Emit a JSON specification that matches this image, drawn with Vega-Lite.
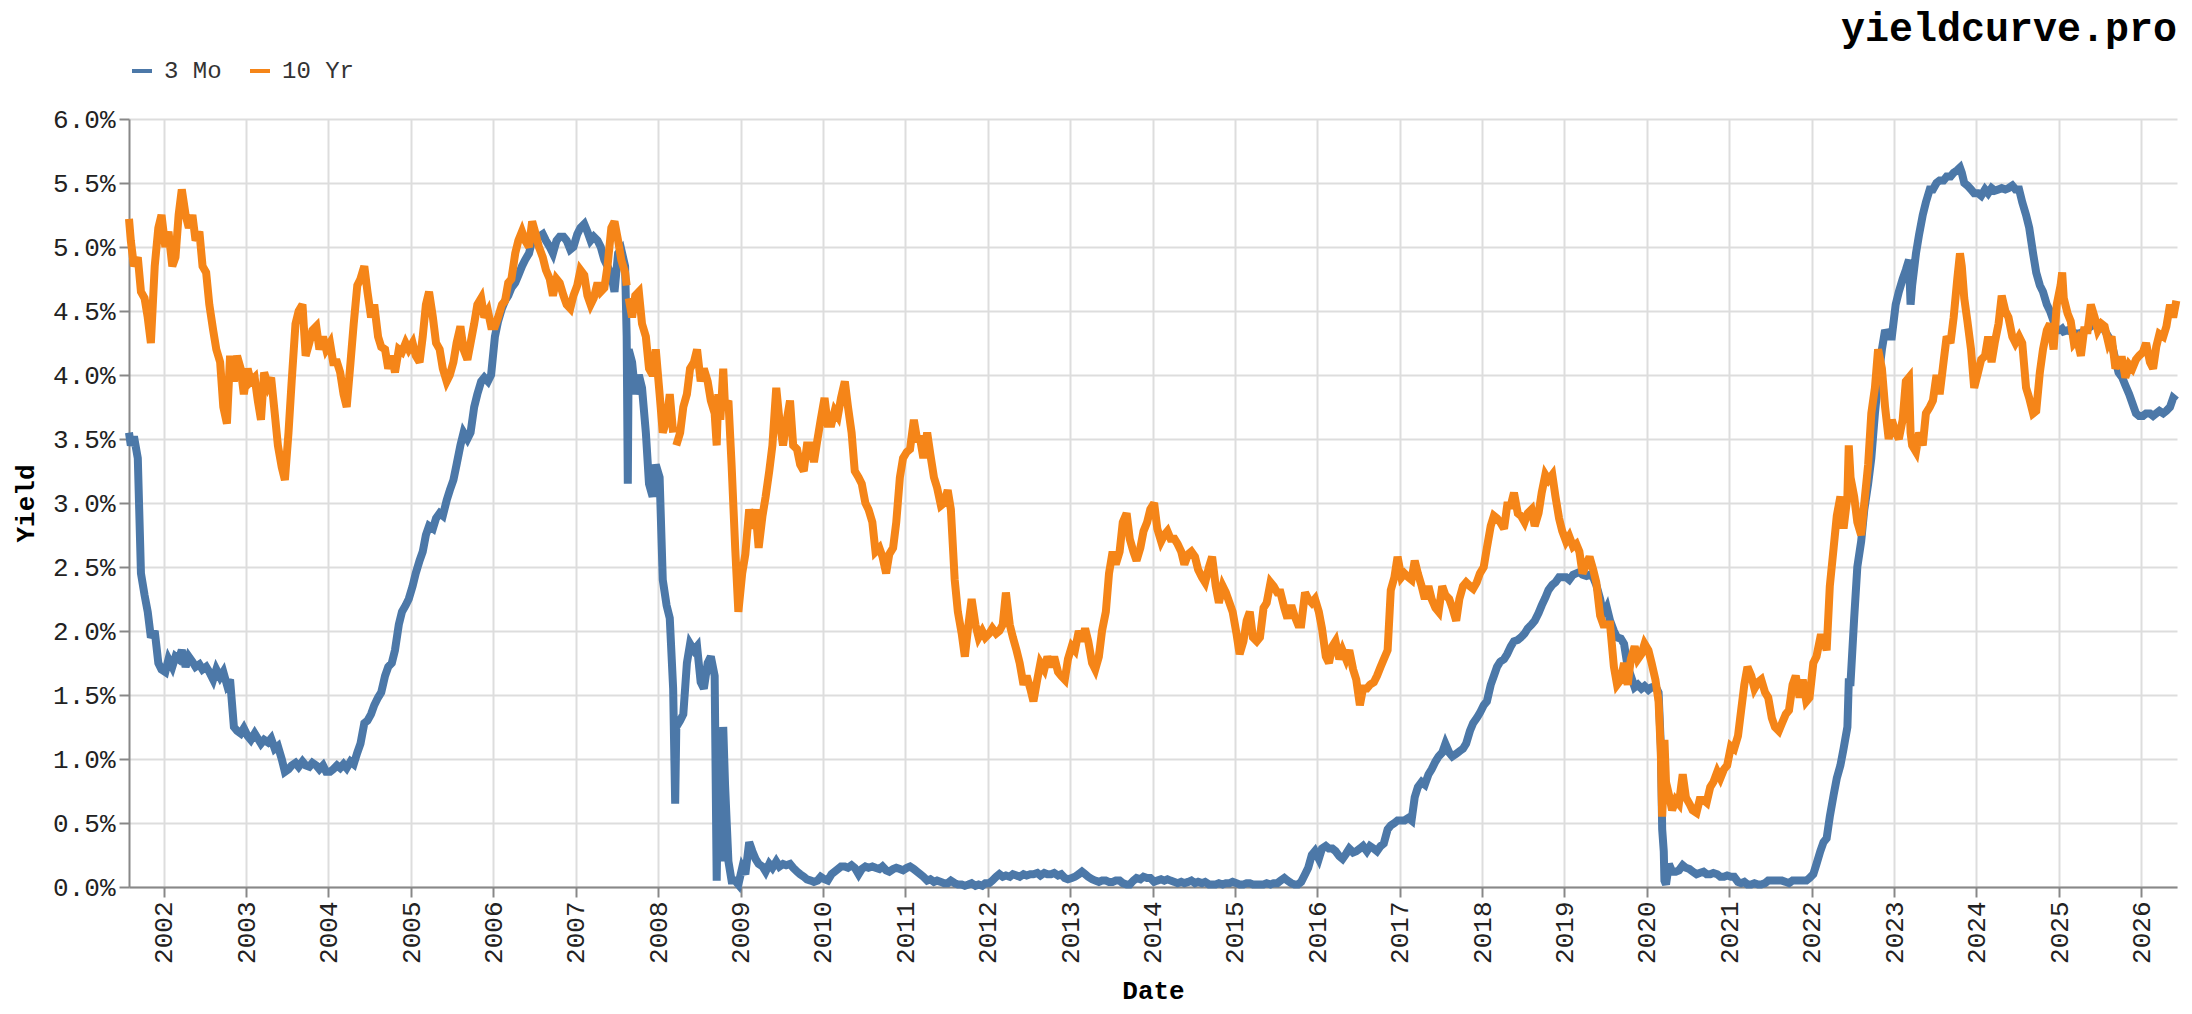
{
  "$schema": "https://vega.github.io/schema/vega-lite/v6.json",
  "width": 2048,
  "height": 768,
  "autosize": {"type": "none"},
  "padding": {"left": 129, "top": 119, "right": 15, "bottom": 127},
  "background": "white",
  "title": {
    "text": "yieldcurve.pro",
    "anchor": "end",
    "frame": "group",
    "font": "Liberation Mono",
    "fontSize": 40,
    "fontWeight": "bold",
    "color": "#000",
    "offset": 10
  },
  "config": {
    "view": {"stroke": null},
    "font": "Liberation Mono"
  },
  "data": {
    "values": [
      {"d":"2001-07-31","m3":3.55,"y10":5.22},
      {"d":"2001-08-08","m3":3.45,"y10":5.05},
      {"d":"2001-08-22","m3":3.52,"y10":4.85},
      {"d":"2001-09-08","m3":3.35,"y10":4.92},
      {"d":"2001-09-22","m3":2.45,"y10":4.65},
      {"d":"2001-10-08","m3":2.28,"y10":4.6},
      {"d":"2001-10-22","m3":2.15,"y10":4.45},
      {"d":"2001-11-05","m3":1.95,"y10":4.25},
      {"d":"2001-11-22","m3":2.0,"y10":4.85},
      {"d":"2001-12-08","m3":1.75,"y10":5.15},
      {"d":"2001-12-22","m3":1.7,"y10":5.25},
      {"d":"2002-01-08","m3":1.68,"y10":5.0},
      {"d":"2002-01-22","m3":1.78,"y10":5.12},
      {"d":"2002-02-08","m3":1.72,"y10":4.85},
      {"d":"2002-02-22","m3":1.8,"y10":4.92},
      {"d":"2002-03-08","m3":1.78,"y10":5.25},
      {"d":"2002-03-22","m3":1.85,"y10":5.45},
      {"d":"2002-04-08","m3":1.72,"y10":5.25},
      {"d":"2002-04-22","m3":1.8,"y10":5.15},
      {"d":"2002-05-08","m3":1.76,"y10":5.25},
      {"d":"2002-05-22","m3":1.72,"y10":5.05},
      {"d":"2002-06-08","m3":1.74,"y10":5.12},
      {"d":"2002-06-22","m3":1.7,"y10":4.85},
      {"d":"2002-07-08","m3":1.72,"y10":4.8},
      {"d":"2002-07-22","m3":1.68,"y10":4.55},
      {"d":"2002-08-08","m3":1.62,"y10":4.35},
      {"d":"2002-08-22","m3":1.7,"y10":4.2},
      {"d":"2002-09-08","m3":1.64,"y10":4.1},
      {"d":"2002-09-22","m3":1.68,"y10":3.75},
      {"d":"2002-10-08","m3":1.58,"y10":3.62},
      {"d":"2002-10-22","m3":1.62,"y10":4.15},
      {"d":"2002-11-08","m3":1.25,"y10":3.95},
      {"d":"2002-11-22","m3":1.22,"y10":4.15},
      {"d":"2002-12-08","m3":1.2,"y10":4.05},
      {"d":"2002-12-22","m3":1.24,"y10":3.85},
      {"d":"2003-01-08","m3":1.18,"y10":4.05},
      {"d":"2003-01-22","m3":1.15,"y10":3.95},
      {"d":"2003-02-08","m3":1.2,"y10":3.98},
      {"d":"2003-02-22","m3":1.16,"y10":3.8},
      {"d":"2003-03-08","m3":1.12,"y10":3.65},
      {"d":"2003-03-22","m3":1.15,"y10":4.02},
      {"d":"2003-04-08","m3":1.13,"y10":3.92},
      {"d":"2003-04-22","m3":1.16,"y10":3.98},
      {"d":"2003-05-08","m3":1.08,"y10":3.7},
      {"d":"2003-05-22","m3":1.1,"y10":3.45},
      {"d":"2003-06-08","m3":1.0,"y10":3.28},
      {"d":"2003-06-22","m3":0.9,"y10":3.18},
      {"d":"2003-07-08","m3":0.92,"y10":3.55},
      {"d":"2003-07-22","m3":0.95,"y10":3.95},
      {"d":"2003-08-08","m3":0.97,"y10":4.4},
      {"d":"2003-08-22","m3":0.94,"y10":4.5},
      {"d":"2003-09-08","m3":0.98,"y10":4.55},
      {"d":"2003-09-22","m3":0.95,"y10":4.15},
      {"d":"2003-10-08","m3":0.94,"y10":4.25},
      {"d":"2003-10-22","m3":0.97,"y10":4.35},
      {"d":"2003-11-08","m3":0.95,"y10":4.38},
      {"d":"2003-11-22","m3":0.92,"y10":4.2},
      {"d":"2003-12-08","m3":0.95,"y10":4.3},
      {"d":"2003-12-22","m3":0.9,"y10":4.2},
      {"d":"2004-01-08","m3":0.9,"y10":4.25},
      {"d":"2004-01-22","m3":0.92,"y10":4.1},
      {"d":"2004-02-08","m3":0.95,"y10":4.1},
      {"d":"2004-02-22","m3":0.93,"y10":4.02},
      {"d":"2004-03-08","m3":0.96,"y10":3.85},
      {"d":"2004-03-22","m3":0.93,"y10":3.75},
      {"d":"2004-04-08","m3":0.98,"y10":4.1},
      {"d":"2004-04-22","m3":0.96,"y10":4.4},
      {"d":"2004-05-08","m3":1.05,"y10":4.7},
      {"d":"2004-05-22","m3":1.12,"y10":4.75},
      {"d":"2004-06-08","m3":1.28,"y10":4.85},
      {"d":"2004-06-22","m3":1.3,"y10":4.65},
      {"d":"2004-07-08","m3":1.35,"y10":4.45},
      {"d":"2004-07-22","m3":1.42,"y10":4.55},
      {"d":"2004-08-08","m3":1.48,"y10":4.3},
      {"d":"2004-08-22","m3":1.52,"y10":4.22},
      {"d":"2004-09-08","m3":1.65,"y10":4.2},
      {"d":"2004-09-22","m3":1.72,"y10":4.05},
      {"d":"2004-10-08","m3":1.75,"y10":4.15},
      {"d":"2004-10-22","m3":1.85,"y10":4.02},
      {"d":"2004-11-08","m3":2.05,"y10":4.2},
      {"d":"2004-11-22","m3":2.15,"y10":4.18},
      {"d":"2004-12-08","m3":2.2,"y10":4.25},
      {"d":"2004-12-22","m3":2.25,"y10":4.2},
      {"d":"2005-01-08","m3":2.35,"y10":4.25},
      {"d":"2005-01-22","m3":2.45,"y10":4.15},
      {"d":"2005-02-08","m3":2.55,"y10":4.1},
      {"d":"2005-02-22","m3":2.62,"y10":4.3},
      {"d":"2005-03-08","m3":2.75,"y10":4.55},
      {"d":"2005-03-22","m3":2.82,"y10":4.65},
      {"d":"2005-04-08","m3":2.8,"y10":4.45},
      {"d":"2005-04-22","m3":2.88,"y10":4.25},
      {"d":"2005-05-08","m3":2.92,"y10":4.2},
      {"d":"2005-05-22","m3":2.9,"y10":4.05},
      {"d":"2005-06-08","m3":3.02,"y10":3.95},
      {"d":"2005-06-22","m3":3.1,"y10":4.0},
      {"d":"2005-07-08","m3":3.18,"y10":4.1},
      {"d":"2005-07-22","m3":3.3,"y10":4.25},
      {"d":"2005-08-08","m3":3.45,"y10":4.38},
      {"d":"2005-08-22","m3":3.55,"y10":4.2},
      {"d":"2005-09-08","m3":3.5,"y10":4.12},
      {"d":"2005-09-22","m3":3.55,"y10":4.25},
      {"d":"2005-10-08","m3":3.75,"y10":4.4},
      {"d":"2005-10-22","m3":3.85,"y10":4.55},
      {"d":"2005-11-08","m3":3.95,"y10":4.6},
      {"d":"2005-11-22","m3":3.98,"y10":4.45},
      {"d":"2005-12-08","m3":3.95,"y10":4.5},
      {"d":"2005-12-22","m3":4.0,"y10":4.38},
      {"d":"2006-01-08","m3":4.3,"y10":4.38},
      {"d":"2006-01-22","m3":4.42,"y10":4.45},
      {"d":"2006-02-08","m3":4.52,"y10":4.55},
      {"d":"2006-02-22","m3":4.58,"y10":4.58},
      {"d":"2006-03-08","m3":4.62,"y10":4.72},
      {"d":"2006-03-22","m3":4.68,"y10":4.75},
      {"d":"2006-04-08","m3":4.72,"y10":4.95},
      {"d":"2006-04-22","m3":4.78,"y10":5.05},
      {"d":"2006-05-08","m3":4.85,"y10":5.12},
      {"d":"2006-05-22","m3":4.9,"y10":5.05},
      {"d":"2006-06-08","m3":4.95,"y10":5.0},
      {"d":"2006-06-22","m3":5.05,"y10":5.2},
      {"d":"2006-07-08","m3":5.1,"y10":5.1},
      {"d":"2006-07-22","m3":5.08,"y10":5.0},
      {"d":"2006-08-08","m3":5.1,"y10":4.92},
      {"d":"2006-08-22","m3":5.05,"y10":4.82},
      {"d":"2006-09-08","m3":5.0,"y10":4.75},
      {"d":"2006-09-22","m3":4.95,"y10":4.62},
      {"d":"2006-10-08","m3":5.05,"y10":4.75},
      {"d":"2006-10-22","m3":5.08,"y10":4.72},
      {"d":"2006-11-08","m3":5.08,"y10":4.62},
      {"d":"2006-11-22","m3":5.05,"y10":4.55},
      {"d":"2006-12-08","m3":4.98,"y10":4.52},
      {"d":"2006-12-22","m3":5.0,"y10":4.62},
      {"d":"2007-01-08","m3":5.1,"y10":4.7},
      {"d":"2007-01-22","m3":5.15,"y10":4.82},
      {"d":"2007-02-08","m3":5.18,"y10":4.78},
      {"d":"2007-02-22","m3":5.12,"y10":4.62},
      {"d":"2007-03-08","m3":5.05,"y10":4.55},
      {"d":"2007-03-22","m3":5.08,"y10":4.6},
      {"d":"2007-04-08","m3":5.05,"y10":4.72},
      {"d":"2007-04-22","m3":5.0,"y10":4.65},
      {"d":"2007-05-08","m3":4.9,"y10":4.68},
      {"d":"2007-05-22","m3":4.85,"y10":4.85},
      {"d":"2007-06-08","m3":4.78,"y10":5.15},
      {"d":"2007-06-22","m3":4.65,"y10":5.2},
      {"d":"2007-07-08","m3":4.95,"y10":5.05},
      {"d":"2007-07-22","m3":4.98,"y10":4.9},
      {"d":"2007-08-08","m3":4.85,"y10":4.8},
      {"d":"2007-08-15","m3":4.3,"y10":4.7},
      {"d":"2007-08-20","m3":3.15},
      {"d":"2007-08-24","m3":4.2,"y10":4.6},
      {"d":"2007-09-08","m3":4.1,"y10":4.45},
      {"d":"2007-09-22","m3":3.85,"y10":4.62},
      {"d":"2007-10-08","m3":4.0,"y10":4.65},
      {"d":"2007-10-22","m3":3.9,"y10":4.4},
      {"d":"2007-11-08","m3":3.55,"y10":4.3},
      {"d":"2007-11-22","m3":3.15,"y10":4.05},
      {"d":"2007-12-08","m3":3.05,"y10":4.0},
      {"d":"2007-12-22","m3":3.3,"y10":4.2},
      {"d":"2008-01-08","m3":3.2,"y10":3.85},
      {"d":"2008-01-22","m3":2.4,"y10":3.55},
      {"d":"2008-02-08","m3":2.2,"y10":3.65},
      {"d":"2008-02-22","m3":2.1,"y10":3.85},
      {"d":"2008-03-08","m3":1.55,"y10":3.55},
      {"d":"2008-03-17","m3":0.65},
      {"d":"2008-03-22","m3":1.25,"y10":3.45},
      {"d":"2008-04-08","m3":1.3,"y10":3.55},
      {"d":"2008-04-22","m3":1.35,"y10":3.75},
      {"d":"2008-05-08","m3":1.75,"y10":3.85},
      {"d":"2008-05-22","m3":1.9,"y10":4.05},
      {"d":"2008-06-08","m3":1.85,"y10":4.1},
      {"d":"2008-06-22","m3":1.88,"y10":4.2},
      {"d":"2008-07-08","m3":1.6,"y10":3.95},
      {"d":"2008-07-22","m3":1.55,"y10":4.05},
      {"d":"2008-08-08","m3":1.75,"y10":3.95},
      {"d":"2008-08-22","m3":1.8,"y10":3.8},
      {"d":"2008-09-08","m3":1.65,"y10":3.7},
      {"d":"2008-09-17","m3":0.05,"y10":3.45},
      {"d":"2008-09-24","m3":0.9,"y10":3.85},
      {"d":"2008-10-03","m3":0.5,"y10":3.65},
      {"d":"2008-10-10","m3":0.2,"y10":3.85},
      {"d":"2008-10-16","m3":1.25,"y10":4.05},
      {"d":"2008-10-24","m3":0.8,"y10":3.75},
      {"d":"2008-11-08","m3":0.2,"y10":3.8},
      {"d":"2008-11-22","m3":0.05,"y10":3.3},
      {"d":"2008-12-08","m3":0.05,"y10":2.65},
      {"d":"2008-12-22","m3":0.02,"y10":2.15},
      {"d":"2009-01-08","m3":0.15,"y10":2.45},
      {"d":"2009-01-22","m3":0.1,"y10":2.6},
      {"d":"2009-02-08","m3":0.35,"y10":2.95},
      {"d":"2009-02-22","m3":0.28,"y10":2.8},
      {"d":"2009-03-08","m3":0.22,"y10":2.95},
      {"d":"2009-03-22","m3":0.18,"y10":2.65},
      {"d":"2009-04-08","m3":0.16,"y10":2.9},
      {"d":"2009-04-22","m3":0.12,"y10":3.05},
      {"d":"2009-05-08","m3":0.18,"y10":3.25},
      {"d":"2009-05-22","m3":0.15,"y10":3.45},
      {"d":"2009-06-08","m3":0.2,"y10":3.9},
      {"d":"2009-06-22","m3":0.16,"y10":3.65},
      {"d":"2009-07-08","m3":0.18,"y10":3.45},
      {"d":"2009-07-22","m3":0.17,"y10":3.62},
      {"d":"2009-08-08","m3":0.18,"y10":3.8},
      {"d":"2009-08-22","m3":0.15,"y10":3.45},
      {"d":"2009-09-08","m3":0.12,"y10":3.42},
      {"d":"2009-09-22","m3":0.1,"y10":3.3},
      {"d":"2009-10-08","m3":0.08,"y10":3.25},
      {"d":"2009-10-22","m3":0.06,"y10":3.45},
      {"d":"2009-11-08","m3":0.05,"y10":3.45},
      {"d":"2009-11-22","m3":0.04,"y10":3.32},
      {"d":"2009-12-08","m3":0.05,"y10":3.5},
      {"d":"2009-12-22","m3":0.08,"y10":3.65},
      {"d":"2010-01-08","m3":0.06,"y10":3.82},
      {"d":"2010-01-22","m3":0.05,"y10":3.62},
      {"d":"2010-02-08","m3":0.1,"y10":3.62},
      {"d":"2010-02-22","m3":0.12,"y10":3.72},
      {"d":"2010-03-08","m3":0.14,"y10":3.68},
      {"d":"2010-03-22","m3":0.16,"y10":3.82},
      {"d":"2010-04-08","m3":0.16,"y10":3.95},
      {"d":"2010-04-22","m3":0.15,"y10":3.75},
      {"d":"2010-05-08","m3":0.17,"y10":3.55},
      {"d":"2010-05-22","m3":0.15,"y10":3.25},
      {"d":"2010-06-08","m3":0.1,"y10":3.2},
      {"d":"2010-06-22","m3":0.14,"y10":3.15},
      {"d":"2010-07-08","m3":0.16,"y10":3.0},
      {"d":"2010-07-22","m3":0.15,"y10":2.95},
      {"d":"2010-08-08","m3":0.16,"y10":2.85},
      {"d":"2010-08-22","m3":0.15,"y10":2.62},
      {"d":"2010-09-08","m3":0.14,"y10":2.65},
      {"d":"2010-09-22","m3":0.16,"y10":2.58},
      {"d":"2010-10-08","m3":0.13,"y10":2.45},
      {"d":"2010-10-22","m3":0.12,"y10":2.6},
      {"d":"2010-11-08","m3":0.14,"y10":2.65},
      {"d":"2010-11-22","m3":0.15,"y10":2.85},
      {"d":"2010-12-08","m3":0.14,"y10":3.2},
      {"d":"2010-12-22","m3":0.13,"y10":3.35},
      {"d":"2011-01-08","m3":0.15,"y10":3.4},
      {"d":"2011-01-22","m3":0.16,"y10":3.42},
      {"d":"2011-02-08","m3":0.14,"y10":3.65},
      {"d":"2011-02-22","m3":0.12,"y10":3.5},
      {"d":"2011-03-08","m3":0.1,"y10":3.5},
      {"d":"2011-03-22","m3":0.08,"y10":3.35},
      {"d":"2011-04-08","m3":0.05,"y10":3.55},
      {"d":"2011-04-22","m3":0.06,"y10":3.38},
      {"d":"2011-05-08","m3":0.04,"y10":3.2},
      {"d":"2011-05-22","m3":0.05,"y10":3.12},
      {"d":"2011-06-08","m3":0.04,"y10":2.98},
      {"d":"2011-06-22","m3":0.03,"y10":3.0},
      {"d":"2011-07-08","m3":0.03,"y10":3.1},
      {"d":"2011-07-22","m3":0.05,"y10":2.95},
      {"d":"2011-08-08","m3":0.03,"y10":2.4},
      {"d":"2011-08-22","m3":0.02,"y10":2.15},
      {"d":"2011-09-08","m3":0.02,"y10":1.98},
      {"d":"2011-09-22","m3":0.01,"y10":1.8},
      {"d":"2011-10-08","m3":0.02,"y10":2.05},
      {"d":"2011-10-22","m3":0.03,"y10":2.25},
      {"d":"2011-11-08","m3":0.01,"y10":2.05},
      {"d":"2011-11-22","m3":0.02,"y10":1.95},
      {"d":"2011-12-08","m3":0.01,"y10":2.0},
      {"d":"2011-12-22","m3":0.03,"y10":1.95},
      {"d":"2012-01-08","m3":0.03,"y10":1.98},
      {"d":"2012-01-22","m3":0.05,"y10":2.02},
      {"d":"2012-02-08","m3":0.08,"y10":1.98},
      {"d":"2012-02-22","m3":0.1,"y10":2.0},
      {"d":"2012-03-08","m3":0.08,"y10":2.05},
      {"d":"2012-03-22","m3":0.09,"y10":2.3},
      {"d":"2012-04-08","m3":0.08,"y10":2.05},
      {"d":"2012-04-22","m3":0.1,"y10":1.95},
      {"d":"2012-05-08","m3":0.09,"y10":1.85},
      {"d":"2012-05-22","m3":0.08,"y10":1.75},
      {"d":"2012-06-08","m3":0.1,"y10":1.58},
      {"d":"2012-06-22","m3":0.09,"y10":1.65},
      {"d":"2012-07-08","m3":0.1,"y10":1.55},
      {"d":"2012-07-22","m3":0.1,"y10":1.45},
      {"d":"2012-08-08","m3":0.11,"y10":1.62},
      {"d":"2012-08-22","m3":0.09,"y10":1.75},
      {"d":"2012-09-08","m3":0.11,"y10":1.7},
      {"d":"2012-09-22","m3":0.1,"y10":1.8},
      {"d":"2012-10-08","m3":0.1,"y10":1.72},
      {"d":"2012-10-22","m3":0.11,"y10":1.8},
      {"d":"2012-11-08","m3":0.09,"y10":1.68},
      {"d":"2012-11-22","m3":0.1,"y10":1.65},
      {"d":"2012-12-08","m3":0.07,"y10":1.62},
      {"d":"2012-12-22","m3":0.06,"y10":1.78},
      {"d":"2013-01-08","m3":0.07,"y10":1.88},
      {"d":"2013-01-22","m3":0.08,"y10":1.85},
      {"d":"2013-02-08","m3":0.1,"y10":2.0},
      {"d":"2013-02-22","m3":0.12,"y10":1.92},
      {"d":"2013-03-08","m3":0.1,"y10":2.02},
      {"d":"2013-03-22","m3":0.08,"y10":1.92},
      {"d":"2013-04-08","m3":0.06,"y10":1.75},
      {"d":"2013-04-22","m3":0.05,"y10":1.7},
      {"d":"2013-05-08","m3":0.04,"y10":1.8},
      {"d":"2013-05-22","m3":0.05,"y10":2.0},
      {"d":"2013-06-08","m3":0.05,"y10":2.15},
      {"d":"2013-06-22","m3":0.04,"y10":2.45},
      {"d":"2013-07-08","m3":0.04,"y10":2.62},
      {"d":"2013-07-22","m3":0.05,"y10":2.52},
      {"d":"2013-08-08","m3":0.05,"y10":2.62},
      {"d":"2013-08-22","m3":0.03,"y10":2.85},
      {"d":"2013-09-08","m3":0.02,"y10":2.92},
      {"d":"2013-09-22","m3":0.02,"y10":2.72},
      {"d":"2013-10-08","m3":0.05,"y10":2.62},
      {"d":"2013-10-22","m3":0.07,"y10":2.55},
      {"d":"2013-11-08","m3":0.06,"y10":2.65},
      {"d":"2013-11-22","m3":0.08,"y10":2.78},
      {"d":"2013-12-08","m3":0.07,"y10":2.85},
      {"d":"2013-12-22","m3":0.07,"y10":2.95},
      {"d":"2014-01-08","m3":0.04,"y10":3.0},
      {"d":"2014-01-22","m3":0.05,"y10":2.8},
      {"d":"2014-02-08","m3":0.06,"y10":2.7},
      {"d":"2014-02-22","m3":0.05,"y10":2.75},
      {"d":"2014-03-08","m3":0.06,"y10":2.78},
      {"d":"2014-03-22","m3":0.05,"y10":2.72},
      {"d":"2014-04-08","m3":0.04,"y10":2.72},
      {"d":"2014-04-22","m3":0.03,"y10":2.68},
      {"d":"2014-05-08","m3":0.04,"y10":2.62},
      {"d":"2014-05-22","m3":0.03,"y10":2.52},
      {"d":"2014-06-08","m3":0.04,"y10":2.6},
      {"d":"2014-06-22","m3":0.05,"y10":2.62},
      {"d":"2014-07-08","m3":0.03,"y10":2.58},
      {"d":"2014-07-22","m3":0.04,"y10":2.48},
      {"d":"2014-08-08","m3":0.03,"y10":2.42},
      {"d":"2014-08-22","m3":0.04,"y10":2.38},
      {"d":"2014-09-08","m3":0.02,"y10":2.5},
      {"d":"2014-09-22","m3":0.02,"y10":2.58},
      {"d":"2014-10-08","m3":0.02,"y10":2.35},
      {"d":"2014-10-22","m3":0.03,"y10":2.22},
      {"d":"2014-11-08","m3":0.02,"y10":2.35},
      {"d":"2014-11-22","m3":0.03,"y10":2.3},
      {"d":"2014-12-08","m3":0.03,"y10":2.22},
      {"d":"2014-12-22","m3":0.04,"y10":2.15},
      {"d":"2015-01-08","m3":0.03,"y10":1.98},
      {"d":"2015-01-22","m3":0.02,"y10":1.82},
      {"d":"2015-02-08","m3":0.02,"y10":1.92},
      {"d":"2015-02-22","m3":0.03,"y10":2.08},
      {"d":"2015-03-08","m3":0.03,"y10":2.15},
      {"d":"2015-03-22","m3":0.02,"y10":1.95},
      {"d":"2015-04-08","m3":0.02,"y10":1.92},
      {"d":"2015-04-22","m3":0.02,"y10":1.95},
      {"d":"2015-05-08","m3":0.02,"y10":2.18},
      {"d":"2015-05-22","m3":0.03,"y10":2.22},
      {"d":"2015-06-08","m3":0.02,"y10":2.38},
      {"d":"2015-06-22","m3":0.03,"y10":2.35},
      {"d":"2015-07-08","m3":0.03,"y10":2.3},
      {"d":"2015-07-22","m3":0.05,"y10":2.3},
      {"d":"2015-08-08","m3":0.07,"y10":2.18},
      {"d":"2015-08-22","m3":0.05,"y10":2.1},
      {"d":"2015-09-08","m3":0.03,"y10":2.2},
      {"d":"2015-09-22","m3":0.02,"y10":2.12},
      {"d":"2015-10-08","m3":0.02,"y10":2.05},
      {"d":"2015-10-22","m3":0.04,"y10":2.05},
      {"d":"2015-11-08","m3":0.1,"y10":2.3},
      {"d":"2015-11-22","m3":0.15,"y10":2.25},
      {"d":"2015-12-08","m3":0.25,"y10":2.22},
      {"d":"2015-12-22","m3":0.28,"y10":2.25},
      {"d":"2016-01-08","m3":0.22,"y10":2.15},
      {"d":"2016-01-22","m3":0.3,"y10":2.02},
      {"d":"2016-02-08","m3":0.32,"y10":1.8},
      {"d":"2016-02-22","m3":0.3,"y10":1.75},
      {"d":"2016-03-08","m3":0.3,"y10":1.88},
      {"d":"2016-03-22","m3":0.28,"y10":1.92},
      {"d":"2016-04-08","m3":0.24,"y10":1.78},
      {"d":"2016-04-22","m3":0.22,"y10":1.85},
      {"d":"2016-05-08","m3":0.26,"y10":1.78},
      {"d":"2016-05-22","m3":0.3,"y10":1.85},
      {"d":"2016-06-08","m3":0.27,"y10":1.7},
      {"d":"2016-06-22","m3":0.28,"y10":1.62},
      {"d":"2016-07-08","m3":0.3,"y10":1.42},
      {"d":"2016-07-22","m3":0.32,"y10":1.55},
      {"d":"2016-08-08","m3":0.28,"y10":1.55},
      {"d":"2016-08-22","m3":0.32,"y10":1.58},
      {"d":"2016-09-08","m3":0.3,"y10":1.6},
      {"d":"2016-09-22","m3":0.28,"y10":1.65},
      {"d":"2016-10-08","m3":0.32,"y10":1.72},
      {"d":"2016-10-22","m3":0.34,"y10":1.78},
      {"d":"2016-11-08","m3":0.45,"y10":1.85},
      {"d":"2016-11-22","m3":0.48,"y10":2.32},
      {"d":"2016-12-08","m3":0.5,"y10":2.42},
      {"d":"2016-12-22","m3":0.52,"y10":2.58},
      {"d":"2017-01-08","m3":0.52,"y10":2.42},
      {"d":"2017-01-22","m3":0.52,"y10":2.45},
      {"d":"2017-02-08","m3":0.54,"y10":2.42},
      {"d":"2017-02-22","m3":0.52,"y10":2.4},
      {"d":"2017-03-08","m3":0.7,"y10":2.55},
      {"d":"2017-03-22","m3":0.78,"y10":2.45},
      {"d":"2017-04-08","m3":0.82,"y10":2.35},
      {"d":"2017-04-22","m3":0.8,"y10":2.25},
      {"d":"2017-05-08","m3":0.88,"y10":2.35},
      {"d":"2017-05-22","m3":0.92,"y10":2.25},
      {"d":"2017-06-08","m3":0.98,"y10":2.18},
      {"d":"2017-06-22","m3":1.02,"y10":2.15},
      {"d":"2017-07-08","m3":1.05,"y10":2.35},
      {"d":"2017-07-22","m3":1.12,"y10":2.28},
      {"d":"2017-08-08","m3":1.05,"y10":2.25},
      {"d":"2017-08-22","m3":1.02,"y10":2.18},
      {"d":"2017-09-08","m3":1.04,"y10":2.08},
      {"d":"2017-09-22","m3":1.06,"y10":2.25},
      {"d":"2017-10-08","m3":1.08,"y10":2.35},
      {"d":"2017-10-22","m3":1.12,"y10":2.38},
      {"d":"2017-11-08","m3":1.22,"y10":2.35},
      {"d":"2017-11-22","m3":1.28,"y10":2.33},
      {"d":"2017-12-08","m3":1.32,"y10":2.38},
      {"d":"2017-12-22","m3":1.36,"y10":2.45},
      {"d":"2018-01-08","m3":1.42,"y10":2.5},
      {"d":"2018-01-22","m3":1.45,"y10":2.65},
      {"d":"2018-02-08","m3":1.58,"y10":2.82},
      {"d":"2018-02-22","m3":1.65,"y10":2.9},
      {"d":"2018-03-08","m3":1.72,"y10":2.88},
      {"d":"2018-03-22","m3":1.76,"y10":2.85},
      {"d":"2018-04-08","m3":1.78,"y10":2.8},
      {"d":"2018-04-22","m3":1.82,"y10":2.98},
      {"d":"2018-05-08","m3":1.88,"y10":2.98},
      {"d":"2018-05-22","m3":1.92,"y10":3.08},
      {"d":"2018-06-08","m3":1.93,"y10":2.92},
      {"d":"2018-06-22","m3":1.95,"y10":2.9},
      {"d":"2018-07-08","m3":1.98,"y10":2.85},
      {"d":"2018-07-22","m3":2.02,"y10":2.92},
      {"d":"2018-08-08","m3":2.05,"y10":2.95},
      {"d":"2018-08-22","m3":2.08,"y10":2.82},
      {"d":"2018-09-08","m3":2.14,"y10":2.92},
      {"d":"2018-09-22","m3":2.2,"y10":3.08},
      {"d":"2018-10-08","m3":2.26,"y10":3.22},
      {"d":"2018-10-22","m3":2.32,"y10":3.18},
      {"d":"2018-11-08","m3":2.36,"y10":3.22},
      {"d":"2018-11-22","m3":2.38,"y10":3.05},
      {"d":"2018-12-08","m3":2.42,"y10":2.88},
      {"d":"2018-12-22","m3":2.42,"y10":2.78},
      {"d":"2019-01-08","m3":2.42,"y10":2.7},
      {"d":"2019-01-22","m3":2.4,"y10":2.74},
      {"d":"2019-02-08","m3":2.44,"y10":2.66},
      {"d":"2019-02-22","m3":2.45,"y10":2.68},
      {"d":"2019-03-08","m3":2.46,"y10":2.62},
      {"d":"2019-03-22","m3":2.44,"y10":2.45},
      {"d":"2019-04-08","m3":2.43,"y10":2.52},
      {"d":"2019-04-22","m3":2.44,"y10":2.58},
      {"d":"2019-05-08","m3":2.42,"y10":2.48},
      {"d":"2019-05-22","m3":2.36,"y10":2.38},
      {"d":"2019-06-08","m3":2.25,"y10":2.12},
      {"d":"2019-06-22","m3":2.12,"y10":2.05},
      {"d":"2019-07-08","m3":2.18,"y10":2.05},
      {"d":"2019-07-22","m3":2.08,"y10":2.05},
      {"d":"2019-08-08","m3":2.0,"y10":1.72},
      {"d":"2019-08-22","m3":1.95,"y10":1.58},
      {"d":"2019-09-08","m3":1.94,"y10":1.62},
      {"d":"2019-09-22","m3":1.9,"y10":1.75},
      {"d":"2019-10-08","m3":1.72,"y10":1.58},
      {"d":"2019-10-22","m3":1.65,"y10":1.78},
      {"d":"2019-11-08","m3":1.56,"y10":1.88},
      {"d":"2019-11-22","m3":1.58,"y10":1.78},
      {"d":"2019-12-08","m3":1.55,"y10":1.82},
      {"d":"2019-12-22","m3":1.57,"y10":1.9},
      {"d":"2020-01-08","m3":1.54,"y10":1.85},
      {"d":"2020-01-22","m3":1.56,"y10":1.75},
      {"d":"2020-02-08","m3":1.57,"y10":1.62},
      {"d":"2020-02-22","m3":1.52,"y10":1.45},
      {"d":"2020-03-03","m3":1.1,"y10":1.05},
      {"d":"2020-03-09","m3":0.45,"y10":0.55},
      {"d":"2020-03-16","m3":0.28,"y10":0.85},
      {"d":"2020-03-19","m3":0.05,"y10":1.15},
      {"d":"2020-03-26","m3":0.02,"y10":0.82},
      {"d":"2020-04-08","m3":0.18,"y10":0.72},
      {"d":"2020-04-22","m3":0.12,"y10":0.6},
      {"d":"2020-05-08","m3":0.12,"y10":0.68},
      {"d":"2020-05-22","m3":0.13,"y10":0.65},
      {"d":"2020-06-08","m3":0.17,"y10":0.88},
      {"d":"2020-06-22","m3":0.15,"y10":0.7},
      {"d":"2020-07-08","m3":0.14,"y10":0.65},
      {"d":"2020-07-22","m3":0.12,"y10":0.6},
      {"d":"2020-08-08","m3":0.1,"y10":0.58},
      {"d":"2020-08-22","m3":0.11,"y10":0.68},
      {"d":"2020-09-08","m3":0.12,"y10":0.68},
      {"d":"2020-09-22","m3":0.1,"y10":0.66},
      {"d":"2020-10-08","m3":0.1,"y10":0.78},
      {"d":"2020-10-22","m3":0.11,"y10":0.82},
      {"d":"2020-11-08","m3":0.1,"y10":0.9},
      {"d":"2020-11-22","m3":0.08,"y10":0.85},
      {"d":"2020-12-08","m3":0.08,"y10":0.92},
      {"d":"2020-12-22","m3":0.09,"y10":0.95},
      {"d":"2021-01-08","m3":0.08,"y10":1.1},
      {"d":"2021-01-22","m3":0.08,"y10":1.08},
      {"d":"2021-02-08","m3":0.04,"y10":1.18},
      {"d":"2021-02-22","m3":0.03,"y10":1.38},
      {"d":"2021-03-08","m3":0.04,"y10":1.58},
      {"d":"2021-03-22","m3":0.02,"y10":1.72},
      {"d":"2021-04-08","m3":0.02,"y10":1.65},
      {"d":"2021-04-22","m3":0.03,"y10":1.55},
      {"d":"2021-05-08","m3":0.02,"y10":1.6},
      {"d":"2021-05-22","m3":0.02,"y10":1.62},
      {"d":"2021-06-08","m3":0.03,"y10":1.52},
      {"d":"2021-06-22","m3":0.05,"y10":1.48},
      {"d":"2021-07-08","m3":0.05,"y10":1.32},
      {"d":"2021-07-22","m3":0.05,"y10":1.25},
      {"d":"2021-08-08","m3":0.05,"y10":1.22},
      {"d":"2021-08-22","m3":0.05,"y10":1.28},
      {"d":"2021-09-08","m3":0.04,"y10":1.35},
      {"d":"2021-09-22","m3":0.03,"y10":1.38},
      {"d":"2021-10-08","m3":0.05,"y10":1.58},
      {"d":"2021-10-22","m3":0.05,"y10":1.65},
      {"d":"2021-11-08","m3":0.05,"y10":1.48},
      {"d":"2021-11-22","m3":0.05,"y10":1.62},
      {"d":"2021-12-08","m3":0.05,"y10":1.45},
      {"d":"2021-12-22","m3":0.07,"y10":1.48},
      {"d":"2022-01-08","m3":0.1,"y10":1.75},
      {"d":"2022-01-22","m3":0.18,"y10":1.8},
      {"d":"2022-02-08","m3":0.28,"y10":1.95},
      {"d":"2022-02-22","m3":0.35,"y10":1.95},
      {"d":"2022-03-08","m3":0.38,"y10":1.85},
      {"d":"2022-03-22","m3":0.55,"y10":2.35},
      {"d":"2022-04-08","m3":0.72,"y10":2.65},
      {"d":"2022-04-22","m3":0.85,"y10":2.9},
      {"d":"2022-05-08","m3":0.95,"y10":3.05},
      {"d":"2022-05-22","m3":1.08,"y10":2.8},
      {"d":"2022-06-08","m3":1.25,"y10":3.05},
      {"d":"2022-06-14","m3":1.6,"y10":3.45},
      {"d":"2022-06-22","m3":1.6,"y10":3.2},
      {"d":"2022-07-08","m3":2.1,"y10":3.05},
      {"d":"2022-07-22","m3":2.5,"y10":2.85},
      {"d":"2022-08-08","m3":2.7,"y10":2.75},
      {"d":"2022-08-22","m3":2.95,"y10":3.0},
      {"d":"2022-09-08","m3":3.15,"y10":3.3},
      {"d":"2022-09-22","m3":3.35,"y10":3.7},
      {"d":"2022-10-08","m3":3.7,"y10":3.9},
      {"d":"2022-10-22","m3":3.95,"y10":4.2},
      {"d":"2022-11-08","m3":4.2,"y10":4.05},
      {"d":"2022-11-22","m3":4.35,"y10":3.75},
      {"d":"2022-12-08","m3":4.3,"y10":3.5},
      {"d":"2022-12-22","m3":4.3,"y10":3.65},
      {"d":"2023-01-08","m3":4.55,"y10":3.55},
      {"d":"2023-01-22","m3":4.65,"y10":3.5},
      {"d":"2023-02-08","m3":4.75,"y10":3.65},
      {"d":"2023-02-22","m3":4.82,"y10":3.95},
      {"d":"2023-03-08","m3":4.9,"y10":3.98},
      {"d":"2023-03-15","m3":4.55,"y10":3.55},
      {"d":"2023-03-22","m3":4.7,"y10":3.45},
      {"d":"2023-04-08","m3":4.95,"y10":3.4},
      {"d":"2023-04-22","m3":5.1,"y10":3.55},
      {"d":"2023-05-08","m3":5.25,"y10":3.45},
      {"d":"2023-05-22","m3":5.35,"y10":3.7},
      {"d":"2023-06-08","m3":5.45,"y10":3.75},
      {"d":"2023-06-22","m3":5.45,"y10":3.8},
      {"d":"2023-07-08","m3":5.5,"y10":4.0},
      {"d":"2023-07-22","m3":5.52,"y10":3.85},
      {"d":"2023-08-08","m3":5.52,"y10":4.1},
      {"d":"2023-08-22","m3":5.55,"y10":4.3},
      {"d":"2023-09-08","m3":5.55,"y10":4.25},
      {"d":"2023-09-22","m3":5.58,"y10":4.45},
      {"d":"2023-10-08","m3":5.6,"y10":4.75},
      {"d":"2023-10-20","m3":5.62,"y10":4.95},
      {"d":"2023-10-28","m3":5.58,"y10":4.85},
      {"d":"2023-11-08","m3":5.5,"y10":4.6},
      {"d":"2023-11-22","m3":5.48,"y10":4.42},
      {"d":"2023-12-08","m3":5.45,"y10":4.2},
      {"d":"2023-12-22","m3":5.42,"y10":3.9},
      {"d":"2024-01-08","m3":5.42,"y10":4.02},
      {"d":"2024-01-22","m3":5.4,"y10":4.12},
      {"d":"2024-02-08","m3":5.45,"y10":4.15},
      {"d":"2024-02-22","m3":5.42,"y10":4.3},
      {"d":"2024-03-08","m3":5.46,"y10":4.1},
      {"d":"2024-03-22","m3":5.44,"y10":4.25},
      {"d":"2024-04-08","m3":5.45,"y10":4.4},
      {"d":"2024-04-22","m3":5.46,"y10":4.62},
      {"d":"2024-05-08","m3":5.45,"y10":4.5},
      {"d":"2024-05-22","m3":5.46,"y10":4.45},
      {"d":"2024-06-08","m3":5.48,"y10":4.3},
      {"d":"2024-06-22","m3":5.45,"y10":4.25},
      {"d":"2024-07-08","m3":5.45,"y10":4.3},
      {"d":"2024-07-22","m3":5.35,"y10":4.25},
      {"d":"2024-08-08","m3":5.25,"y10":3.9},
      {"d":"2024-08-22","m3":5.15,"y10":3.82},
      {"d":"2024-09-08","m3":4.95,"y10":3.7},
      {"d":"2024-09-22","m3":4.8,"y10":3.72},
      {"d":"2024-10-08","m3":4.7,"y10":4.02},
      {"d":"2024-10-22","m3":4.65,"y10":4.2},
      {"d":"2024-11-08","m3":4.55,"y10":4.35},
      {"d":"2024-11-22","m3":4.5,"y10":4.4},
      {"d":"2024-12-08","m3":4.42,"y10":4.2},
      {"d":"2024-12-22","m3":4.35,"y10":4.55},
      {"d":"2025-01-08","m3":4.35,"y10":4.7},
      {"d":"2025-01-15","m3":4.36,"y10":4.8},
      {"d":"2025-01-22","m3":4.34,"y10":4.6},
      {"d":"2025-02-08","m3":4.35,"y10":4.48},
      {"d":"2025-02-22","m3":4.34,"y10":4.42},
      {"d":"2025-03-08","m3":4.33,"y10":4.25},
      {"d":"2025-03-22","m3":4.32,"y10":4.28},
      {"d":"2025-04-08","m3":4.33,"y10":4.15},
      {"d":"2025-04-22","m3":4.34,"y10":4.35},
      {"d":"2025-05-08","m3":4.36,"y10":4.35},
      {"d":"2025-05-22","m3":4.38,"y10":4.55},
      {"d":"2025-06-08","m3":4.4,"y10":4.45},
      {"d":"2025-06-22","m3":4.38,"y10":4.35},
      {"d":"2025-07-08","m3":4.38,"y10":4.4},
      {"d":"2025-07-22","m3":4.35,"y10":4.38},
      {"d":"2025-08-08","m3":4.3,"y10":4.25},
      {"d":"2025-08-22","m3":4.25,"y10":4.3},
      {"d":"2025-09-08","m3":4.12,"y10":4.05},
      {"d":"2025-09-22","m3":4.02,"y10":4.12},
      {"d":"2025-10-08","m3":3.98,"y10":4.12},
      {"d":"2025-10-22","m3":3.92,"y10":3.98},
      {"d":"2025-11-08","m3":3.85,"y10":4.08},
      {"d":"2025-11-22","m3":3.78,"y10":4.05},
      {"d":"2025-12-08","m3":3.7,"y10":4.12},
      {"d":"2025-12-22","m3":3.68,"y10":4.15},
      {"d":"2026-01-08","m3":3.68,"y10":4.18},
      {"d":"2026-01-22","m3":3.7,"y10":4.25},
      {"d":"2026-02-08","m3":3.7,"y10":4.1},
      {"d":"2026-02-22","m3":3.68,"y10":4.05},
      {"d":"2026-03-08","m3":3.7,"y10":4.22},
      {"d":"2026-03-22","m3":3.72,"y10":4.32},
      {"d":"2026-04-08","m3":3.7,"y10":4.3},
      {"d":"2026-04-22","m3":3.72,"y10":4.38},
      {"d":"2026-05-08","m3":3.75,"y10":4.55},
      {"d":"2026-05-22","m3":3.82,"y10":4.45},
      {"d":"2026-06-05","m3":3.8,"y10":4.58}
    ]
  },
  "transform": [
    {"fold": ["m3", "y10"], "as": ["series", "yield"]}
  ],
  "mark": {"type": "line", "strokeWidth": 8, "strokeJoin": "miter", "strokeMiterLimit": 3},
  "encoding": {
    "x": {
      "field": "d",
      "type": "temporal",
      "title": "Date",
      "scale": {
        "type": "utc",
        "domain": [
          {"year": 2001, "month": 7, "date": 31, "utc": true},
          {"year": 2026, "month": 6, "date": 8, "utc": true}
        ]
      },
      "axis": {
        "format": "%Y",
        "tickCount": {"interval": "year", "step": 1},
        "labelAngle": 270,
        "labelFont": "Liberation Mono",
        "labelFontSize": 26,
        "labelColor": "#222",
        "labelPadding": 4,
        "labelFlush": false,
        "labelOverlap": false,
        "tickSize": 10,
        "tickWidth": 2,
        "tickColor": "#888",
        "domainColor": "#888",
        "domainWidth": 2,
        "gridColor": "#ddd",
        "gridWidth": 2,
        "titleFont": "Liberation Mono",
        "titleFontSize": 26,
        "titleFontWeight": "bold",
        "titleColor": "#000",
        "titlePadding": 14
      }
    },
    "y": {
      "field": "yield",
      "type": "quantitative",
      "title": "Yield",
      "scale": {"domain": [0, 6], "nice": false, "zero": true},
      "axis": {
        "values": [0, 0.5, 1, 1.5, 2, 2.5, 3, 3.5, 4, 4.5, 5, 5.5, 6],
        "labelExpr": "format(datum.value, '.1f') + '%'",
        "labelFont": "Liberation Mono",
        "labelFontSize": 26,
        "labelColor": "#222",
        "labelPadding": 4,
        "tickSize": 10,
        "tickWidth": 2,
        "tickColor": "#888",
        "domainColor": "#888",
        "domainWidth": 2,
        "gridColor": "#ddd",
        "gridWidth": 2,
        "titleFont": "Liberation Mono",
        "titleFontSize": 26,
        "titleFontWeight": "bold",
        "titleColor": "#000",
        "titlePadding": 14
      }
    },
    "color": {
      "field": "series",
      "type": "nominal",
      "scale": {"domain": ["m3", "y10"], "range": ["#4c78a8", "#f58518"]},
      "legend": {
        "title": null,
        "orient": "none",
        "legendX": 1,
        "legendY": -60,
        "direction": "horizontal",
        "padding": 0,
        "symbolType": "stroke",
        "symbolSize": 400,
        "symbolStrokeWidth": 4,
        "labelFont": "Liberation Mono",
        "labelFontSize": 24,
        "labelColor": "#333",
        "labelOffset": 10,
        "columnPadding": 20,
        "labelExpr": "datum.value == 'm3' ? '3 Mo' : '10 Yr'"
      }
    }
  }
}
